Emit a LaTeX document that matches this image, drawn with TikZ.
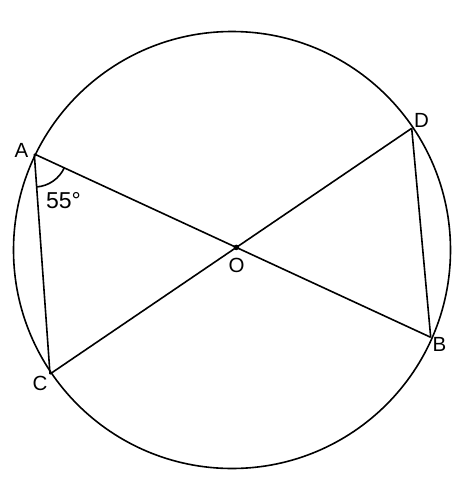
\documentclass[tikz,border=0pt]{standalone}
\usepackage{fontspec}
\setmainfont{Liberation Sans}
\usetikzlibrary{calc,intersections,angles}
\begin{document}
\begin{tikzpicture}[x=1pt,y=-1pt,
  geo/.style={line width=1.6pt},
  lbl/.style={font=\fontsize{20.5}{22}\selectfont, inner sep=0pt},
  biglbl/.style={font=\fontsize{23}{25}\selectfont, inner sep=0pt}]
\useasboundingbox (0,0) rectangle (464,477);
\coordinate (Ctr) at (232,250);
\coordinate (A) at (34.3,154);
\coordinate (D) at (411.7,128.3);
\coordinate (B) at (430.7,337.3);
\coordinate (C) at (50,374);
\draw[geo] (Ctr) circle[radius=218.5];
\draw[geo, name path=ab] (A) -- (B);
\draw[geo, name path=cd] (C) -- (D);
\draw[geo] (A) -- (C);
\draw[geo] (D) -- (B);
\path[name intersections={of=ab and cd, by=O}];
\fill (O) circle[radius=2.8];
\pic[draw, geo, angle radius=33] {angle = C--A--B};
\node[lbl] (la) at (21.5,150) {A};
\node[lbl] (ld) at (421.5,120.5) {D};
\node[lbl] (lb) at (439.5,344.5) {B};
\node[lbl] (lc) at (40,383) {C};
\node[lbl] (lo) at (236.5,265) {O};
\node[biglbl] (l55) at (63.5,200.5) {55°};
\end{tikzpicture}
\end{document}
